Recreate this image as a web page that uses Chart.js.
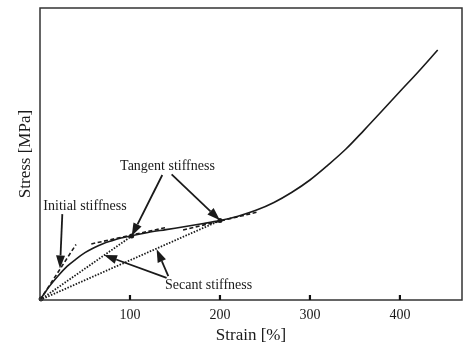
<!DOCTYPE html>
<html>
<head>
<meta charset="utf-8">
<script src="https://cdn.jsdelivr.net/npm/chart.js@4.4.1/dist/chart.umd.min.js"></script>
<style>
  html, body { margin: 0; padding: 0; background: #fff; }
  #wrap { width: 474px; height: 351px; }
</style>
</head>
<body>
<div id="wrap"><canvas id="c" width="474" height="351"></canvas></div>
<script>
// ---- data ----
const strain = [0, 5, 10, 20, 30, 40, 50, 60, 70, 80, 90, 100, 120, 140, 160, 180, 200, 220, 240, 260, 280, 300, 320, 340, 360, 380, 400, 420, 442];
const stress = [0, 2.3, 4.5, 8.2, 11.5, 14.0, 16.2, 17.9, 19.3, 20.3, 21.2, 21.9, 23.1, 24.1, 25.1, 26.1, 27.2, 28.7, 30.7, 33.4, 36.9, 41.1, 46.2, 51.7, 58.1, 64.7, 71.4, 78.0, 85.6];
const xTicks = [100, 200, 300, 400];
const initialTangentX = [0, 40];
const initialTangentY = [0, 19.0];
const tangent100X = [57, 141];
const tangent100Y = [19.2, 24.9];
const tangent200X = [159, 243];
const tangent200Y = [24.0, 30.2];
const secant100X = [0, 101.9];
const secant100Y = [0, 21.9];
const secant200X = [0, 200];
const secant200Y = [0, 27.2];
const markX = [101.9, 200];
const markY = [21.9, 27.2];
// annotations: [label, left x, middle y] and arrows [fromX, fromY, toX, toY]
const labels = [
  ["Tangent stiffness", 89, 45.9],
  ["Initial stiffness", 3.7, 32.0],
  ["Secant stiffness", 138.9, 5.1]
];
const arrows = [
  [24.8, 29.4, 22.2, 10.8],
  [135.9, 42.8, 101.9, 21.9],
  [146.3, 43.0, 200, 27.3],
  [140.7, 7.6, 71.1, 15.4],
  [142.6, 8.2, 129.6, 17.4]
];

const pts = (xs, ys) => xs.map((x, i) => ({x: x, y: ys[i]}));
const SERIF = '"Liberation Serif", "DejaVu Serif", serif';
const INK = '#1a1a1a';

const overlay = {
  id: 'overlay',
  afterDatasetsDraw(chart) {
    const ctx = chart.ctx;
    const xs = chart.scales.x, ys = chart.scales.y;
    const a = chart.chartArea;
    ctx.save();
    // frame
    ctx.strokeStyle = '#333';
    ctx.lineWidth = 1.5;
    ctx.strokeRect(a.left, a.top, a.right - a.left, a.bottom - a.top);
    // inward ticks
    ctx.lineWidth = 2.2;
    ctx.strokeStyle = '#111';
    xTicks.forEach(v => {
      const px = xs.getPixelForValue(v);
      ctx.beginPath();
      ctx.moveTo(px, a.bottom);
      ctx.lineTo(px, a.bottom - 5);
      ctx.stroke();
    });
    // arrows
    ctx.fillStyle = INK;
    ctx.strokeStyle = INK;
    arrows.forEach(([x0, y0, x1, y1]) => {
      const p0x = xs.getPixelForValue(x0), p0y = ys.getPixelForValue(y0);
      const p1x = xs.getPixelForValue(x1), p1y = ys.getPixelForValue(y1);
      const ang = Math.atan2(p1y - p0y, p1x - p0x);
      const L = 13, W = 4.5;
      const bx = p1x - L * Math.cos(ang), by = p1y - L * Math.sin(ang);
      ctx.lineWidth = 1.8;
      ctx.beginPath();
      ctx.moveTo(p0x, p0y);
      ctx.lineTo(bx, by);
      ctx.stroke();
      ctx.beginPath();
      ctx.moveTo(p1x, p1y);
      ctx.lineTo(bx + W * Math.sin(ang), by - W * Math.cos(ang));
      ctx.lineTo(bx - W * Math.sin(ang), by + W * Math.cos(ang));
      ctx.closePath();
      ctx.fill();
    });
    // labels
    ctx.font = '14px ' + SERIF;
    ctx.textAlign = 'left';
    ctx.textBaseline = 'middle';
    labels.forEach(([t, x, y]) => {
      ctx.fillText(t, xs.getPixelForValue(x), ys.getPixelForValue(y));
    });
    // origin marker
    ctx.lineWidth = 1;
    ctx.beginPath();
    ctx.arc(xs.getPixelForValue(0) + 1, ys.getPixelForValue(0) - 1, 2, 0, Math.PI * 2);
    ctx.stroke();
    ctx.restore();
  }
};

const lineDs = (data, extra) => Object.assign({
  data: data, showLine: true, borderColor: INK, borderWidth: 1.5,
  pointRadius: 0, fill: false
}, extra);

new Chart(document.getElementById('c'), {
  type: 'scatter',
  data: {
    datasets: [
      lineDs(pts(strain, stress), {cubicInterpolationMode: 'monotone', borderWidth: 1.6}),
      lineDs(pts(initialTangentX, initialTangentY), {borderDash: [4, 2.5], borderWidth: 1.6}),
      lineDs(pts(tangent100X, tangent100Y), {borderDash: [4, 2.5], borderWidth: 1.6}),
      lineDs(pts(tangent200X, tangent200Y), {borderDash: [4, 2.5], borderWidth: 1.6}),
      lineDs(pts(secant100X, secant100Y), {borderDash: [1.5, 1.5], borderWidth: 1.8}),
      lineDs(pts(secant200X, secant200Y), {borderDash: [1.5, 1.5], borderWidth: 1.8}),
      {data: pts(markX, markY), showLine: false, pointRadius: 2.5, pointBackgroundColor: INK, pointBorderColor: INK, pointBorderWidth: 0}
    ]
  },
  options: {
    responsive: false,
    animation: false,
    devicePixelRatio: 1,
    layout: {padding: {top: 8, right: 12, left: 0, bottom: 0}},
    plugins: {legend: {display: false}, tooltip: {enabled: false}},
    scales: {
      x: {
        type: 'linear', min: 0, max: 469,
        afterBuildTicks: s => { s.ticks = xTicks.map(v => ({value: v})); },
        afterFit: s => { s.height = 51; },
        grid: {display: false, drawTicks: false},
        border: {display: false},
        ticks: {color: INK, font: {family: SERIF, size: 14}, padding: 7},
        title: {display: true, text: 'Strain [%]', color: INK, font: {family: SERIF, size: 17}, padding: {top: 0, bottom: 5}}
      },
      y: {
        type: 'linear', min: 0, max: 100,
        afterFit: s => { s.width = 40; },
        grid: {display: false, drawTicks: false},
        border: {display: false},
        ticks: {display: false},
        title: {display: true, text: 'Stress [MPa]', color: INK, font: {family: SERIF, size: 17}, padding: {top: 15, bottom: 0}}
      }
    }
  },
  plugins: [overlay]
});
</script>
</body>
</html>
